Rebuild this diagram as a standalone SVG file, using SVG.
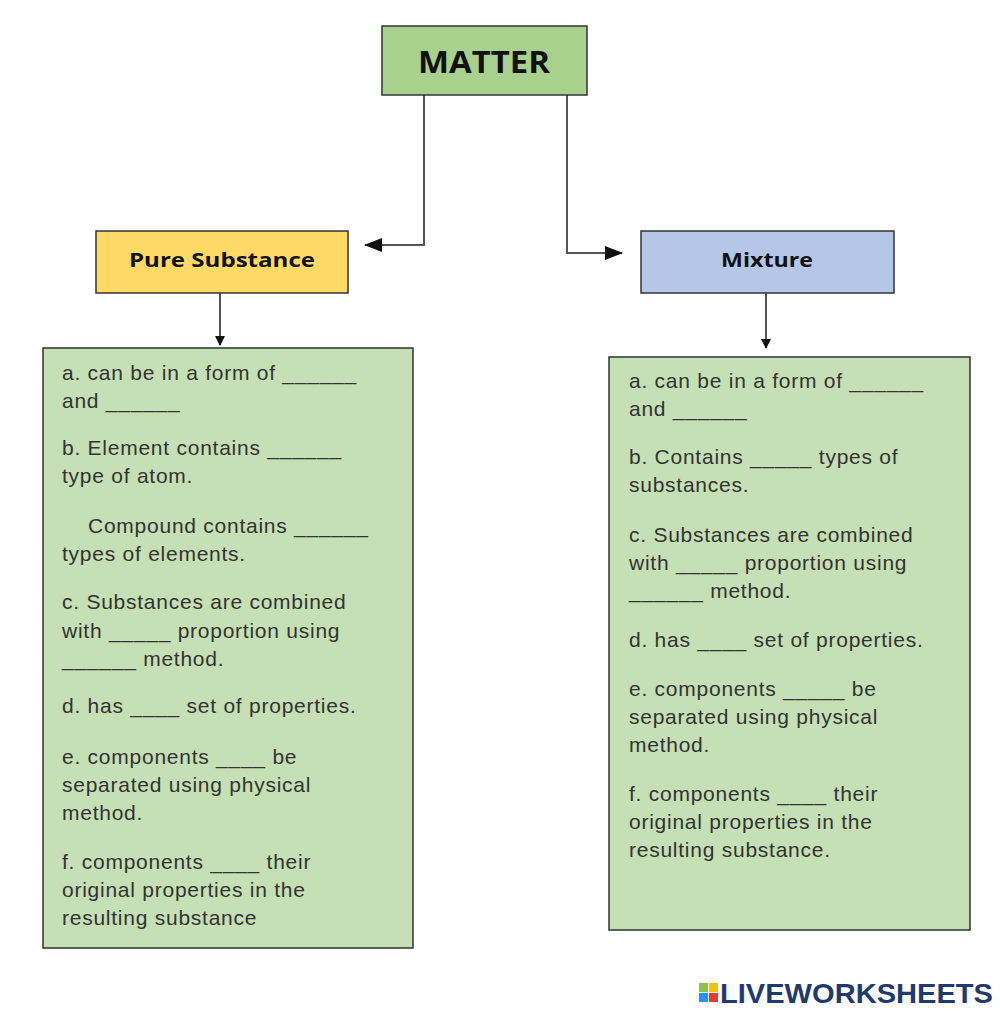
<svg xmlns="http://www.w3.org/2000/svg" width="1000" height="1013" viewBox="0 0 1000 1013">
<style>
.box{stroke:#333;stroke-width:1.5}
.t{font-family:"Liberation Sans",Arial,sans-serif;font-size:21px;letter-spacing:0.75px;fill:#333}
.h{font-family:"Open Sans","DejaVu Sans",sans-serif;font-weight:bold;fill:#111;text-anchor:middle}
.c{fill:none;stroke:#555;stroke-width:2}
</style>
<defs><marker id="a" markerWidth="10" markerHeight="10" refX="9" refY="5" orient="auto" markerUnits="userSpaceOnUse"><path d="M0,0 L10,5 L0,10 z" fill="#111"/></marker>
<marker id="b" markerWidth="18" markerHeight="14" refX="17" refY="7" orient="auto" markerUnits="userSpaceOnUse"><path d="M0,0 L18,7 L0,14 z" fill="#111"/></marker></defs>
<rect width="1000" height="1013" fill="#fff"/>
<g id="connectors">
<path class="c" d="M424,95 V245 H365" marker-end="url(#b)"/>
<path class="c" d="M567,95 V253 H622" marker-end="url(#b)"/>
<path class="c" stroke="#222" d="M220,293 V345" marker-end="url(#a)"/>
<path class="c" stroke="#222" d="M766,293 V348" marker-end="url(#a)"/>
</g>
<g id="matter"><rect class="box" x="382" y="26" width="205" height="69" fill="#a9d18e"/><text class="h" x="484" y="73" font-size="31" textLength="132" lengthAdjust="spacingAndGlyphs">MATTER</text></g>
<g id="pure"><rect class="box" x="96" y="231" width="252" height="62" fill="#ffd966"/><text class="h" x="222" y="267" font-size="20" textLength="186" lengthAdjust="spacingAndGlyphs">Pure Substance</text></g>
<g id="mixture"><rect class="box" x="641" y="231" width="253" height="62" fill="#b4c7e7"/><text class="h" x="767" y="267" font-size="20" textLength="92" lengthAdjust="spacingAndGlyphs">Mixture</text></g>
<g id="pure-list"><rect class="box" x="43" y="348" width="370" height="600" fill="#c5e0b4"/>
<text class="t" x="62" y="380">a. can be in a form of ______</text>
<text class="t" x="62" y="408">and ______</text>
<text class="t" x="62" y="455">b. Element contains ______</text>
<text class="t" x="62" y="483">type of atom.</text>
<text class="t" x="88" y="533">Compound contains ______</text>
<text class="t" x="62" y="561">types of elements.</text>
<text class="t" x="62" y="609">c. Substances are combined</text>
<text class="t" x="62" y="638">with _____ proportion using</text>
<text class="t" x="62" y="666">______ method.</text>
<text class="t" x="62" y="713">d. has ____ set of properties.</text>
<text class="t" x="62" y="764">e. components ____ be</text>
<text class="t" x="62" y="792">separated using physical</text>
<text class="t" x="62" y="820">method.</text>
<text class="t" x="62" y="869">f. components ____ their</text>
<text class="t" x="62" y="897">original properties in the</text>
<text class="t" x="62" y="925">resulting substance</text>
</g>
<g id="mixture-list"><rect class="box" x="609" y="357" width="361" height="573" fill="#c5e0b4"/>
<text class="t" x="629" y="388">a. can be in a form of ______</text>
<text class="t" x="629" y="416">and ______</text>
<text class="t" x="629" y="464">b. Contains _____ types of</text>
<text class="t" x="629" y="492">substances.</text>
<text class="t" x="629" y="542">c. Substances are combined</text>
<text class="t" x="629" y="570">with _____ proportion using</text>
<text class="t" x="629" y="598">______ method.</text>
<text class="t" x="629" y="647">d. has ____ set of properties.</text>
<text class="t" x="629" y="696">e. components _____ be</text>
<text class="t" x="629" y="724">separated using physical</text>
<text class="t" x="629" y="752">method.</text>
<text class="t" x="629" y="801">f. components ____ their</text>
<text class="t" x="629" y="829">original properties in the</text>
<text class="t" x="629" y="857">resulting substance.</text>
</g>
<g id="logo">
<rect x="699" y="983" width="9" height="9" fill="#8bc34a"/><rect x="709" y="983" width="9" height="9" fill="#f4c20d"/>
<rect x="699" y="993" width="9" height="9" fill="#2196f3"/><rect x="709" y="993" width="9" height="9" fill="#e53935"/>
<text x="720" y="1003" font-family="'Liberation Sans',Arial,sans-serif" font-weight="bold" font-size="28" fill="#1f3b6e" textLength="273" lengthAdjust="spacingAndGlyphs">LIVEWORKSHEETS</text>
</g>
</svg>
